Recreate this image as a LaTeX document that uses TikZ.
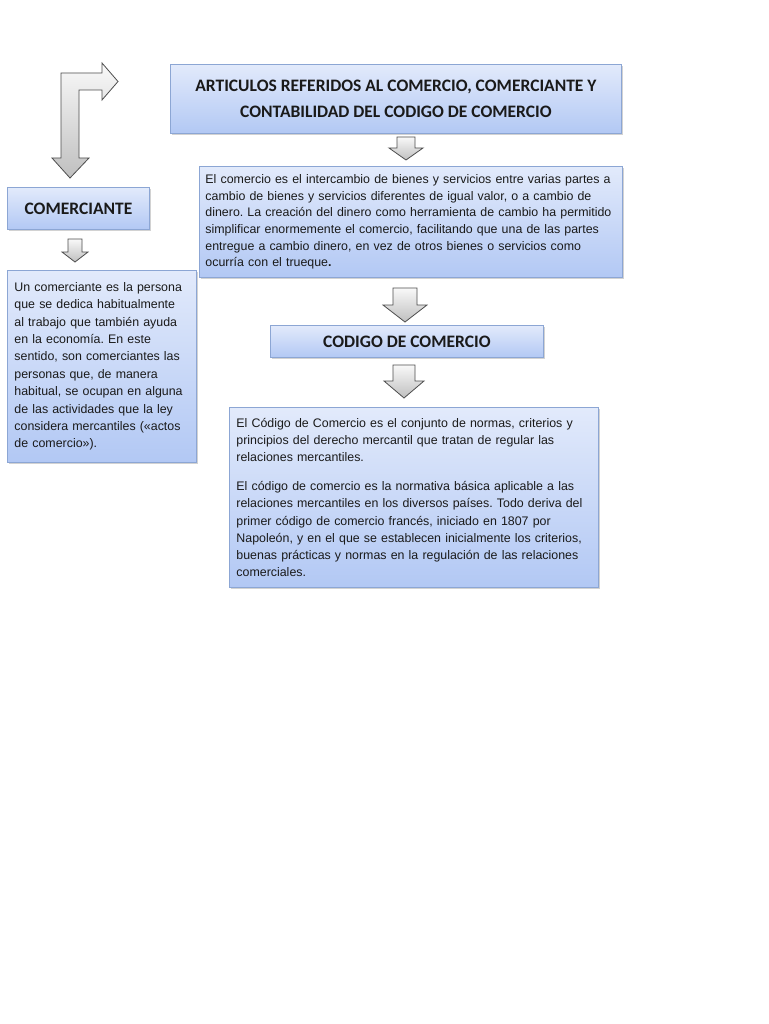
\documentclass[tikz,border=0pt]{standalone}
\usepackage{fontspec}
\setmainfont{Liberation Sans}
\newfontfamily\carlito{Carlito}
\usetikzlibrary{shadows}
\frenchspacing

\definecolor{cajaborde}{HTML}{8CA6D4}
\definecolor{cajaarriba}{HTML}{E2EAFB}
\definecolor{cajaabajo}{HTML}{B2C8F4}
\definecolor{tinta}{HTML}{1A1A1A}
\definecolor{flechaborde}{HTML}{4D4D4D}

\tikzset{
  caja/.style={draw=cajaborde, line width=0.9pt, top color=cajaarriba, bottom color=cajaabajo,
    drop shadow={shadow xshift=2pt, shadow yshift=-2pt, opacity=0.35}, inner sep=0pt, text=tinta},
  rotulo/.style={caja, font=\carlito\bfseries\fontsize{17.5}{26}\selectfont, align=center},
  texto/.style={caja, font=\fontsize{12.4}{16.6}\selectfont, align=left},
  flecha/.style={draw=flechaborde, line width=0.8pt, top color=gray!5, bottom color=gray!50, line join=miter}
}

% cx, top, half shaft, half head, head y, tip y
\newcommand{\flechabaja}[6]{%
  \draw[flecha] (#1-#3,#2) -- (#1+#3,#2) -- (#1+#3,#5) -- (#1+#4,#5) -- (#1,#6)
    -- (#1-#4,#5) -- (#1-#3,#5) -- cycle;}

\begin{document}
\begin{tikzpicture}[x=1pt, y=-1pt]
  \fill[white] (0,0) rectangle (768,1024);
  \useasboundingbox (0,0) rectangle (768,1024);

  % Title
  \node[rotulo, anchor=north west, minimum width=451pt, minimum height=69pt] (titulo) at (170,64)
    {ARTICULOS REFERIDOS AL COMERCIO, COMERCIANTE Y\\CONTABILIDAD DEL CODIGO DE COMERCIO};
  \flechabaja{406}{137}{9}{17}{148}{160}

  % Comercio
  \node[texto, anchor=north west, minimum width=423pt, minimum height=111pt, text width=411pt] (comercio) at (199,166)
    {El comercio es el intercambio de bienes y servicios entre varias partes a\\
     cambio de bienes y servicios diferentes de igual valor, o a cambio de\\
     dinero. La creación del dinero como herramienta de cambio ha permitido\\
     simplificar enormemente el comercio, facilitando que una de las partes\\
     entregue a cambio dinero, en vez de otros bienes o servicios como\\
     ocurría con el trueque\textbf{.}};
  \flechabaja{405}{288}{12}{22}{305}{322}

  % Codigo de comercio
  \node[rotulo, anchor=north west, minimum width=273pt, minimum height=32pt] (codigo) at (270,325)
    {CODIGO DE COMERCIO};
  \flechabaja{404}{365}{11}{20}{381}{398}

  \node[texto, anchor=north west, minimum width=369pt, minimum height=180pt, text width=355pt,
    font=\fontsize{12.4}{17.2}\selectfont] (defcodigo) at (229,407)
    {El Código de Comercio es el conjunto de normas, criterios y\\
     principios del derecho mercantil que tratan de regular las\\
     relaciones mercantiles.\\[12pt]
     El código de comercio es la normativa básica aplicable a las\\
     relaciones mercantiles en los diversos países. Todo deriva del\\
     primer código de comercio francés, iniciado en 1807 por\\
     Napoleón, y en el que se establecen inicialmente los criterios,\\
     buenas prácticas y normas en la regulación de las relaciones\\
     comerciales.};

  % Comerciante
  \draw[flecha] (70,178) -- (52,158) -- (61,158) -- (61,73) -- (102,73) -- (102,63) -- (118,81.5)
    -- (102,100) -- (102,90) -- (79,90) -- (79,158) -- (89,158) -- cycle;
  \node[rotulo, anchor=north west, minimum width=142pt, minimum height=42pt] (comerciante) at (7,187)
    {COMERCIANTE};
  \flechabaja{75}{239}{7}{13}{252}{262}

  \node[texto, anchor=north west, minimum width=189pt, minimum height=192pt, text width=175pt,
    font=\fontsize{12.4}{17.4}\selectfont] (defcomerciante) at (7,270)
    {Un comerciante es la persona\\
     que se dedica habitualmente\\
     al trabajo que también ayuda\\
     en la economía. En este\\
     sentido, son comerciantes las\\
     personas que, de manera\\
     habitual, se ocupan en alguna\\
     de las actividades que la ley\\
     considera mercantiles («actos\\
     de comercio»).};
\end{tikzpicture}
\end{document}
